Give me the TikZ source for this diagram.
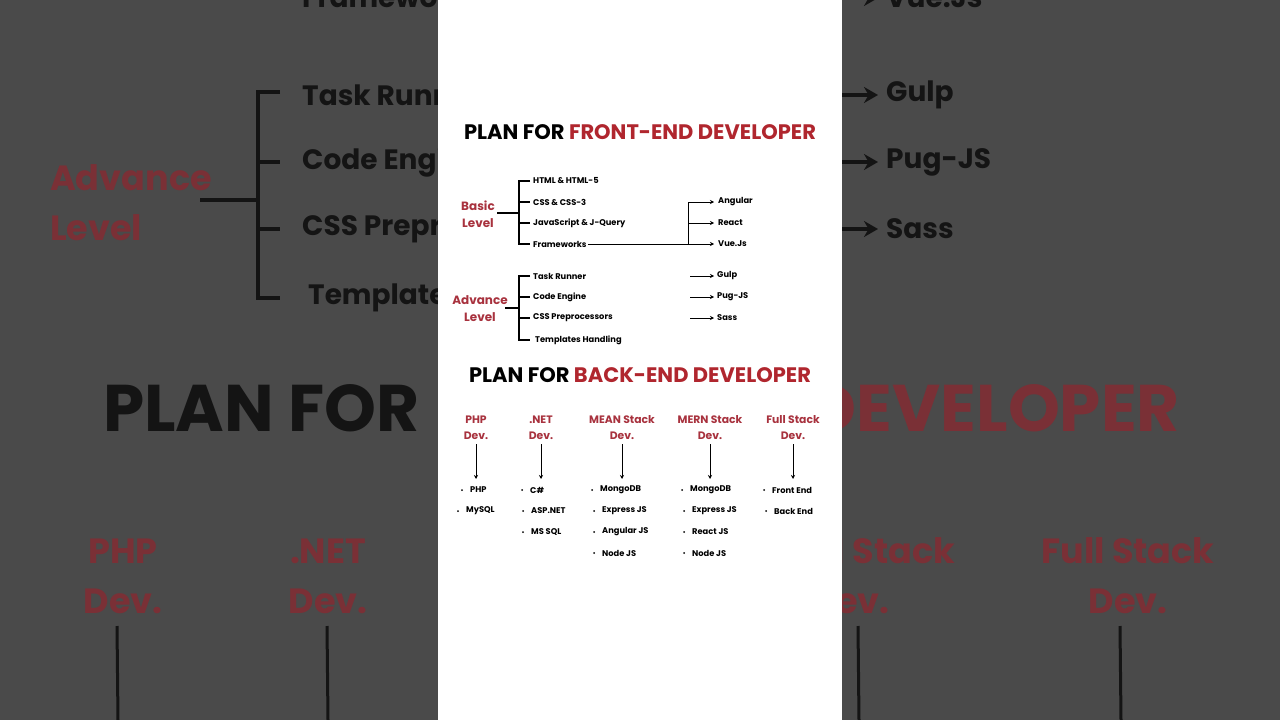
\documentclass[tikz,border=0pt]{standalone}
\usepackage{fontspec}
\setmainfont{Poppins}
\usetikzlibrary{arrows.meta}
\definecolor{bg}{HTML}{4A4A4A}
\definecolor{dimred}{HTML}{7A3036}
\definecolor{dimblk}{HTML}{141414}
\definecolor{red}{HTML}{B0262E}
\definecolor{lab}{HTML}{A8323E}
\tikzset{
  sm/.style={font=\fontsize{8.3}{9}\selectfont\bfseries, anchor=west, inner sep=0pt},
  lvl/.style={font=\fontsize{12}{17}\selectfont\bfseries, text=lab, align=center, inner sep=0pt},
  hd/.style={font=\fontsize{10.8}{16}\selectfont\bfseries, text=lab, align=center, inner sep=0pt},
  ttl/.style={font=\fontsize{21}{24}\selectfont\bfseries, inner sep=0pt},
  ln/.style={line width=1.3pt, black},
  ar/.style={line width=1pt, black, -{Stealth[length=4pt,width=4pt]}},
  big/.style={font=\fontsize{28}{36}\selectfont\bfseries, text=dimblk, anchor=west, inner sep=0pt},
  bigr/.style={font=\fontsize{35}{50}\selectfont\bfseries, text=dimred, inner sep=0pt, align=center},
  bln/.style={line width=4pt, dimblk},
  dot/.style={circle, fill=black, inner sep=0pt, minimum size=2pt}
}
\begin{document}
\begin{tikzpicture}[x=1pt,y=-1pt]
\fill[bg] (0,0) rectangle (1280,720);
\useasboundingbox (0,0) rectangle (1280,720);
% blurred background
\node[big] (bg1) at (302,95) {Task Runner};
\node[big] (bg2) at (302,162) {Code Engine};
\node[big] (bg3) at (302,229) {CSS Preprocessors};
\node[big] (bg4) at (308,297) {Templates Handling};
\node[big, anchor=south west] (bg0) at (302,8) {Frameworks};
\node[bigr, align=left, anchor=west] (bgadv) at (50,203) {Advance\\Level};
\coordinate (bt) at (258,92); \coordinate (bb) at (258,298);
\draw[bln] (280,92) -- (bt) -- (bb) -- (280,298);
\draw[bln] (200,200) -- (258,200);
\draw[bln] (258,162) -- (280,162); \draw[bln] (258,229) -- (280,229);
\foreach \y/\t in {95/Gulp,162/Pug-JS,229/Sass}{
  \draw[line width=4pt, dimblk, -{Stealth[length=14pt,width=16pt]}] (840,\y) -- (878,\y);
  \node[big] at (886,\y) {\t};}
\draw[line width=4pt, dimblk, -{Stealth[length=14pt,width=16pt]}] (840,-2) -- (878,-2);
\node[big, anchor=south west] at (886,8) {Vue.Js};
\node[font=\fontsize{66}{70}\selectfont\bfseries, text=dimblk, anchor=west, inner sep=0pt] (bgplan) at (103,408) {PLAN FOR};
\node[font=\fontsize{66}{70}\selectfont\bfseries, text=dimred, anchor=east, inner sep=0pt] (bgdev) at (1180,408) {DEVELOPER};
\node[bigr] (bgphp) at (123,576) {PHP\\Dev.};
\node[bigr] (bgnet) at (328,576) {.NET\\Dev.};
\node[bigr] (bgmern) at (850,576) {MERN Stack\\Dev.};
\node[bigr] (bgfull) at (1128,576) {Full Stack\\Dev.};
\foreach \x in {117,327,858,1120} \draw[line width=3pt, dimblk] (\x,626) -- (\x+1,720);
% white panel
\fill[white] (438,0) rectangle (842,720);
% front-end
\node[ttl] (t1) at (640,132) {PLAN FOR \textcolor{red}{FRONT-END DEVELOPER}};
\node[lvl] (basic) at (478,214) {Basic\\Level};
\node[sm] (b1) at (533,181) {HTML \& HTML-5};
\node[sm] (b2) at (533,202) {CSS \& CSS-3};
\node[sm] (b3) at (533,223) {JavaScript \& J-Query};
\node[sm] (b4) at (533,244) {Frameworks};
\draw[ln] (497,213) -- (519,213);
\draw[ln] ([xshift=-3pt]b1.west) -- (519,181) -- (519,244) -- ([xshift=-3pt]b4.west);
\draw[ln] (519,202) -- ([xshift=-3pt]b2.west);
\draw[ln] (519,223) -- ([xshift=-3pt]b3.west);
\node[sm] (ang) at (718,202) {Angular};
\node[sm] (rea) at (718,223) {React};
\node[sm] (vue) at (718,244) {Vue.Js};
\coordinate (fk) at (688,244);
\draw[line width=1pt] ([xshift=1pt]b4.east) -- (fk);
\draw[ar] (fk) -- ([xshift=-4pt]vue.west);
\draw[line width=1pt] (fk) -- (688,202);
\draw[ar] (688,202) -- ([xshift=-4pt]ang.west);
\draw[ar] (688,223) -- ([xshift=-4pt]rea.west);
\node[lvl] (adv) at (480,309) {Advance\\Level};
\node[sm] (a1) at (533,276) {Task Runner};
\node[sm] (a2) at (533,297) {Code Engine};
\node[sm] (a3) at (533,318) {CSS Preprocessors};
\node[sm] (a4) at (535,340) {Templates Handling};
\draw[ln] (505,308) -- (519,308);
\draw[ln] ([xshift=-3pt]a1.west) -- (519,276) -- (519,340) -- ([xshift=-5pt]a4.west);
\draw[ln] (519,297) -- ([xshift=-3pt]a2.west);
\draw[ln] (519,318) -- ([xshift=-3pt]a3.west);
\node[sm] (gulp) at (717,276) {Gulp};
\node[sm] (pug) at (717,297) {Pug-JS};
\node[sm] (sass) at (717,318) {Sass};
\foreach \n in {gulp,pug,sass} \draw[ar] ([xshift=-27pt]\n.west) -- ([xshift=-3pt]\n.west);
% back-end
\node[ttl] (t2) at (640,375) {PLAN FOR \textcolor{red}{BACK-END DEVELOPER}};
\foreach \n/\x/\t in {h1/476/PHP\\Dev., h2/541/.NET\\Dev., h3/622/MEAN Stack\\Dev., h4/710/MERN Stack\\Dev., h5/793/Full Stack\\Dev.}{
  \node[hd] (\n) at (\x,428) {\t};
  \coordinate (\n s) at (\x,444);
  \draw[ar] (\n s) -- ++(0,35);}
\foreach \x/\y/\t/\k in {470/490/PHP/p1, 466/511/MySQL/p2,
  530/490/C\#/n1, 531/511/ASP.NET/n2, 531/532/MS SQL/n3,
  600/490/MongoDB/m1, 602/511/Express JS/m2, 602/532/Angular JS/m3, 602/553/Node JS/m4,
  690/490/MongoDB/r1, 692/511/Express JS/r2, 692/532/React JS/r3, 692/553/Node JS/r4,
  772/490/Front End/f1, 774/511/Back End/f2}{
  \node[sm] (\k) at (\x,\y) {\t};
  \node[dot] at ([xshift=-8pt]\k.west) {};}
\end{tikzpicture}
\end{document}
